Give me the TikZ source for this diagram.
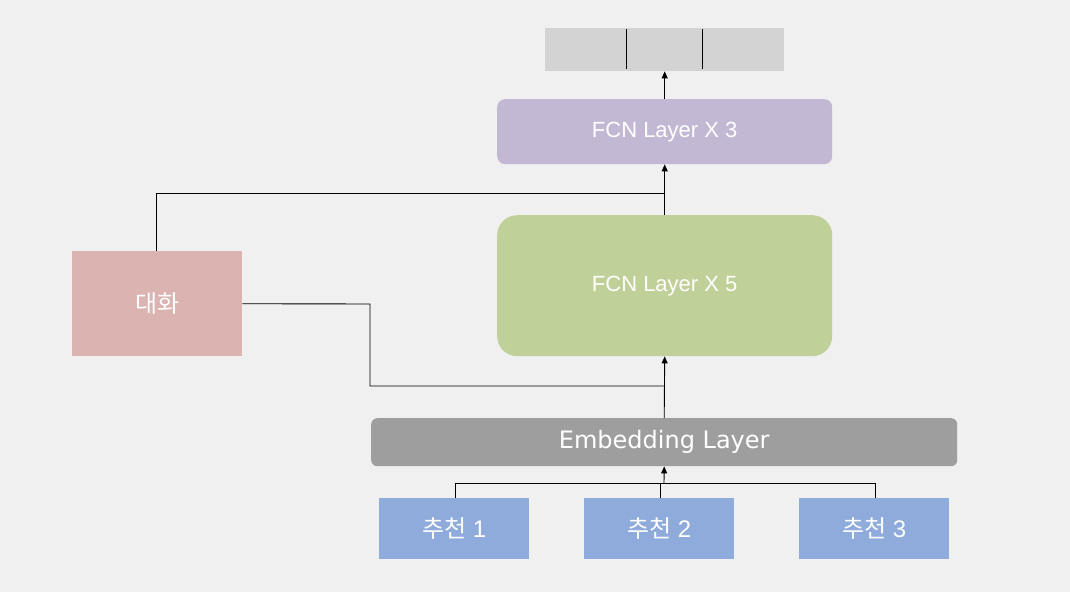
\documentclass[tikz,border=0pt]{standalone}
\usepackage{fontspec}
\setmainfont{Liberation Sans}
\newfontfamily\kr{Noto Sans CJK KR}
\newfontfamily\dv{DejaVu Sans}
\usetikzlibrary{arrows.meta}
\definecolor{bg}{HTML}{F0F0F0}
\definecolor{outc}{HTML}{D3D3D3}
\definecolor{purp}{HTML}{C3B8D3}
\definecolor{grn}{HTML}{BFD098}
\definecolor{pinkc}{HTML}{DBB4B1}
\definecolor{emb}{HTML}{9E9E9E}
\definecolor{blu}{HTML}{8EABDB}
\begin{document}
\begin{tikzpicture}[x=1pt,y=-1pt,
  box/.style={draw=none,text=white,inner sep=0pt,anchor=north west},
  arr/.style={-{Triangle[length=7pt,width=6pt]},line width=0.9pt},
  ln/.style={line width=0.9pt}]
\fill[bg] (0,0) rectangle (1070,592);
\useasboundingbox (0,0) rectangle (1070,592);
\node[box,fill=outc,minimum width=239pt,minimum height=43pt] (out) at (545,28) {};
\draw[ln] (626,29) -- (626,69) (702,29) -- (702,69);
\node[box,fill=purp,rounded corners=8pt,minimum width=335pt,minimum height=65pt,font=\fontsize{22}{26}\selectfont] (f3) at (497,99) {FCN Layer X 3};
\node[box,fill=grn,rounded corners=20pt,minimum width=335pt,minimum height=141pt,font=\fontsize{22}{26}\selectfont] (f5) at (497,215) {FCN Layer X 5};
\node[box,fill=pinkc,minimum width=170pt,minimum height=105pt,font=\kr\fontsize{24}{28}\selectfont] (dh) at (72,251) {대화};
\node[box,fill=emb,rounded corners=6pt,minimum width=586pt,minimum height=48pt,font=\dv\fontsize{24}{28}\selectfont] (em) at (371,418) {Embedding Layer};
\foreach \n/\x/\t in {r1/379/1,r2/584/2,r3/799/3}
  \node[box,fill=blu,minimum width=150pt,minimum height=61pt,font=\fontsize{24}{28}\selectfont] (\n) at (\x,498) {{\kr 추천} \t};
\coordinate (jt) at (664,193);
\coordinate (jm) at (664,386);
\coordinate (jb) at (664,483);
\draw[arr] (f3.north) -- (out.south);
\draw[arr] (f5.north) -- (f3.south);
\draw[ln] (dh.north -| 156,0) -- (156,193) -- (jt);
\draw[arr] (em.north) -- (f5.south);
\draw[ln] (dh.east) -- (370,304) -- (370,386) -- (jm);
\draw[ln] (r1.north -| 455,0) -- (455,483) -- (875,483) -- (r3.north -| 875,0);
\draw[ln] (r2.north -| 660,0) -- (660,483);
\draw[arr] (jb) -- (em.south);
\end{tikzpicture}
\end{document}
